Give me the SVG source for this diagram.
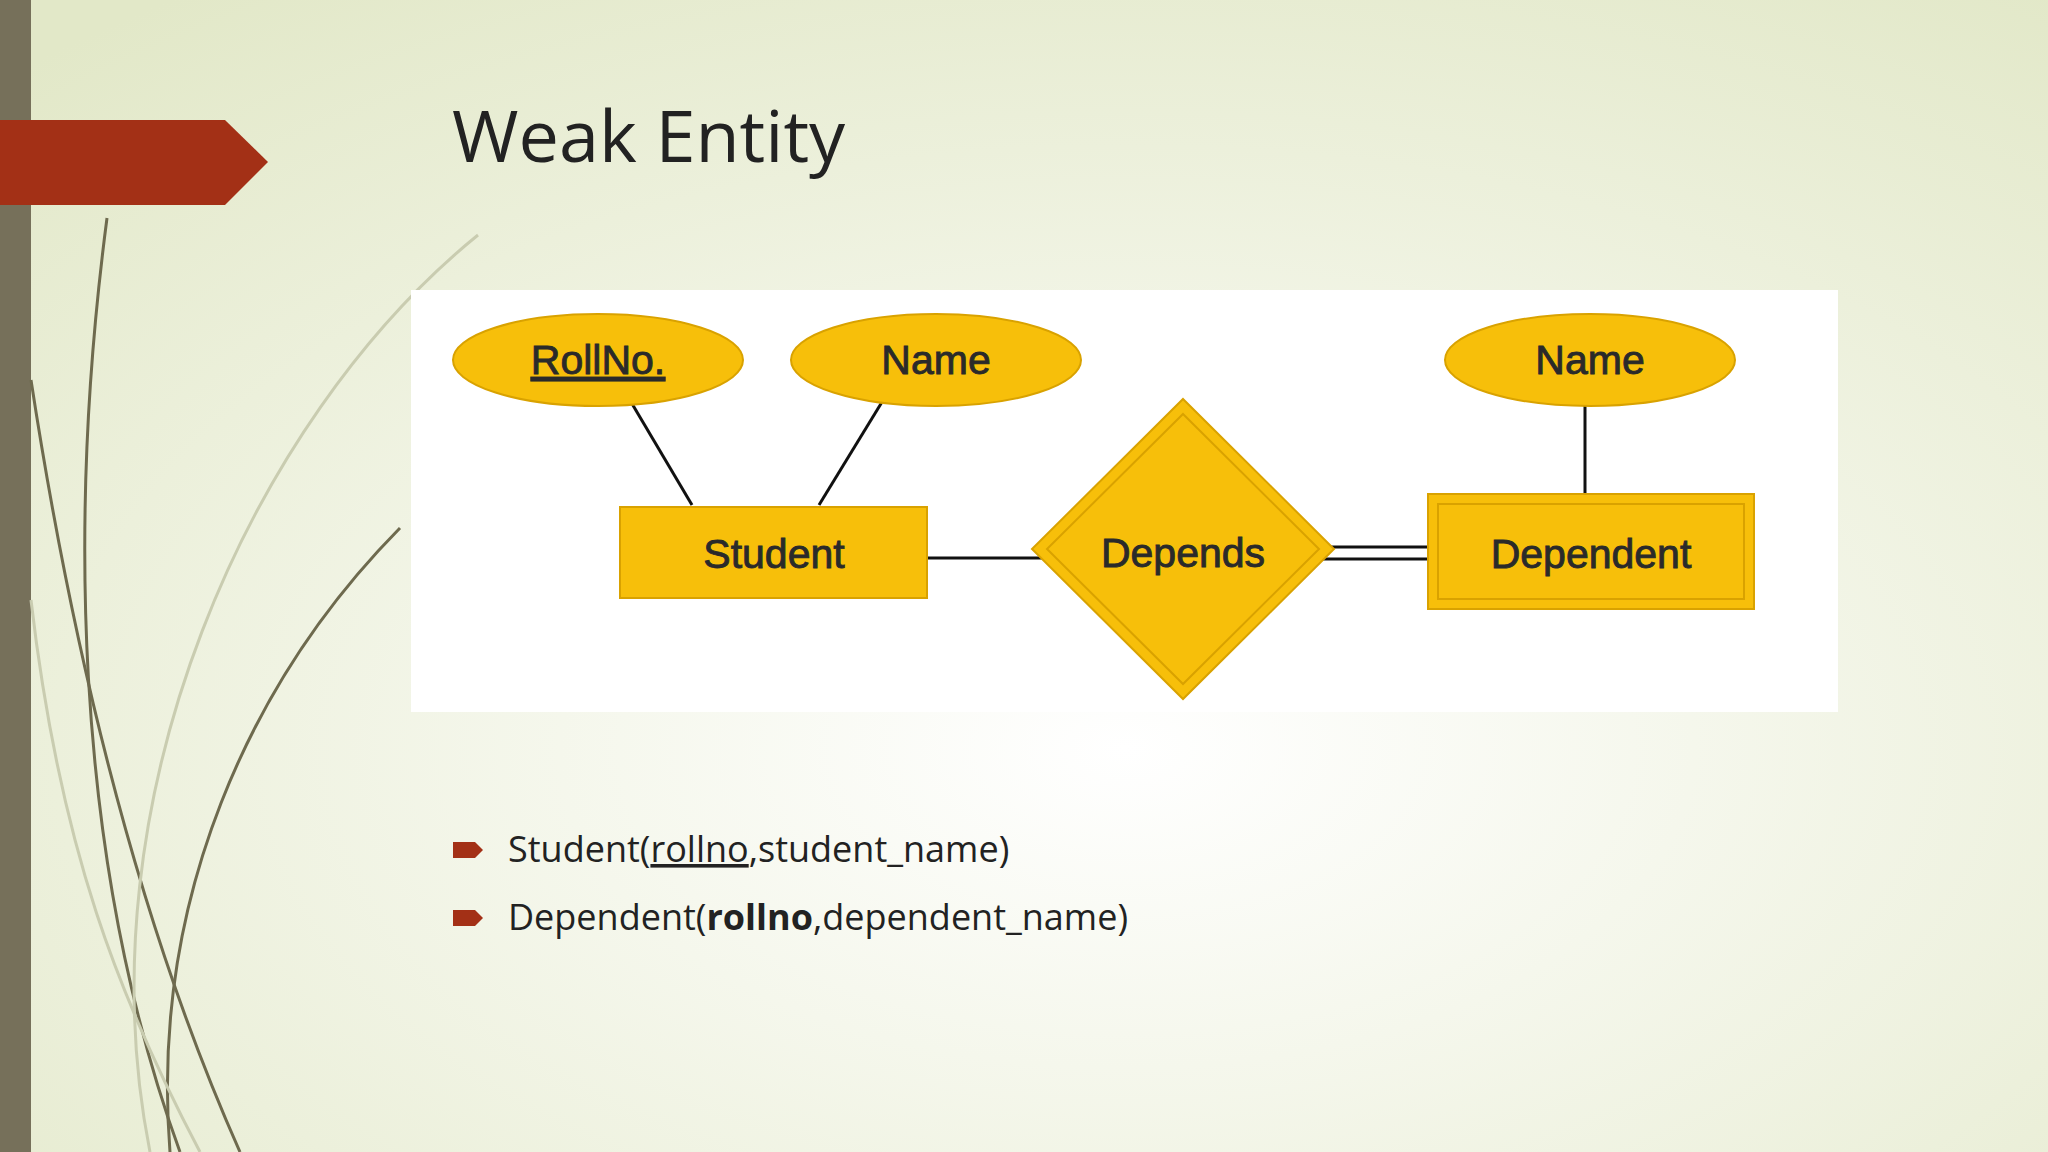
<svg xmlns="http://www.w3.org/2000/svg" width="2048" height="1152" viewBox="0 0 2048 1152">
<defs>
<radialGradient id="bg" cx="0.55" cy="0.65" r="0.8">
<stop offset="0" stop-color="#ffffff"/><stop offset="1" stop-color="#e2e8c8"/>
</radialGradient>
<style>
.sh{fill:#f7bf0a;stroke:#d9a200;stroke-width:2}
.ln{stroke:#111;stroke-width:3;fill:none}
.lb{font-family:"Liberation Sans",Arial,sans-serif;font-size:41px;fill:#2a2a2a;stroke:#2a2a2a;stroke-width:0.9;text-anchor:middle}
.bt{font-family:"Open Sans","Noto Sans",sans-serif;font-size:36px;fill:#222}
.cv{fill:none;stroke:#6e6a4e;stroke-width:3}
.cl{fill:none;stroke:#c9ccb0;stroke-width:3}
</style>
</defs>
<rect width="2048" height="1152" fill="url(#bg)"/>
<rect x="0" y="0" width="31" height="1152" fill="#76705a"/>
<path class="cv" d="M107 218 C70 500 70 850 180 1152"/>
<path class="cv" d="M400 528 C250 680 150 900 170 1152"/>
<path class="cv" d="M31 380 C80 700 150 950 240 1152"/>
<path class="cl" d="M478 235 C250 420 80 800 150 1152"/>
<path class="cl" d="M31 600 C60 850 120 1000 200 1152"/>
<polygon points="0,120 225,120 268,162 225,205 0,205" fill="#a33016"/>
<text x="452" y="162" font-family="Open Sans, Noto Sans, sans-serif" font-size="72" fill="#222">Weak Entity</text>
<rect x="411" y="290" width="1427" height="422" fill="#fff"/>
<g id="connectors">
<line class="ln" x1="631" y1="402" x2="692" y2="505"/>
<line class="ln" x1="882" y1="402" x2="819" y2="505"/>
<line class="ln" x1="927" y1="558" x2="1055" y2="558"/>
<line class="ln" x1="1313" y1="547" x2="1437" y2="547"/>
<line class="ln" x1="1313" y1="559" x2="1437" y2="559"/>
<line class="ln" x1="1585" y1="405" x2="1585" y2="503"/>
</g>
<g id="rollno"><ellipse class="sh" cx="598" cy="360" rx="145" ry="46"/><text class="lb" x="598" y="374" text-decoration="underline">RollNo.</text></g>
<g id="name1"><ellipse class="sh" cx="936" cy="360" rx="145" ry="46"/><text class="lb" x="936" y="374">Name</text></g>
<g id="name2"><ellipse class="sh" cx="1590" cy="360" rx="145" ry="46"/><text class="lb" x="1590" y="374">Name</text></g>
<g id="student"><rect class="sh" x="620" y="507" width="307" height="91"/><text class="lb" x="774" y="568">Student</text></g>
<g id="depends"><polygon class="sh" points="1183,399 1334,549 1183,699 1032,549"/><polygon points="1183,414 1319,549 1183,684 1047,549" fill="none" stroke="#d9a200" stroke-width="2"/><text class="lb" x="1183" y="567" font-size="46">Depends</text></g>
<g id="dependent"><rect class="sh" x="1428" y="494" width="326" height="115"/><rect x="1438" y="504" width="306" height="95" fill="none" stroke="#d9a200" stroke-width="2"/><text class="lb" x="1591" y="568">Dependent</text></g>
<polygon points="453,842 475,842 483,850 475,858 453,858" fill="#a33016"/>
<polygon points="453,910 475,910 483,918 475,926 453,926" fill="#a33016"/>
<text class="bt" x="508" y="862">Student(<tspan text-decoration="underline">rollno</tspan>,student_name)</text>
<text class="bt" x="508" y="930">Dependent(<tspan font-weight="bold">rollno</tspan>,dependent_name)</text>
</svg>
